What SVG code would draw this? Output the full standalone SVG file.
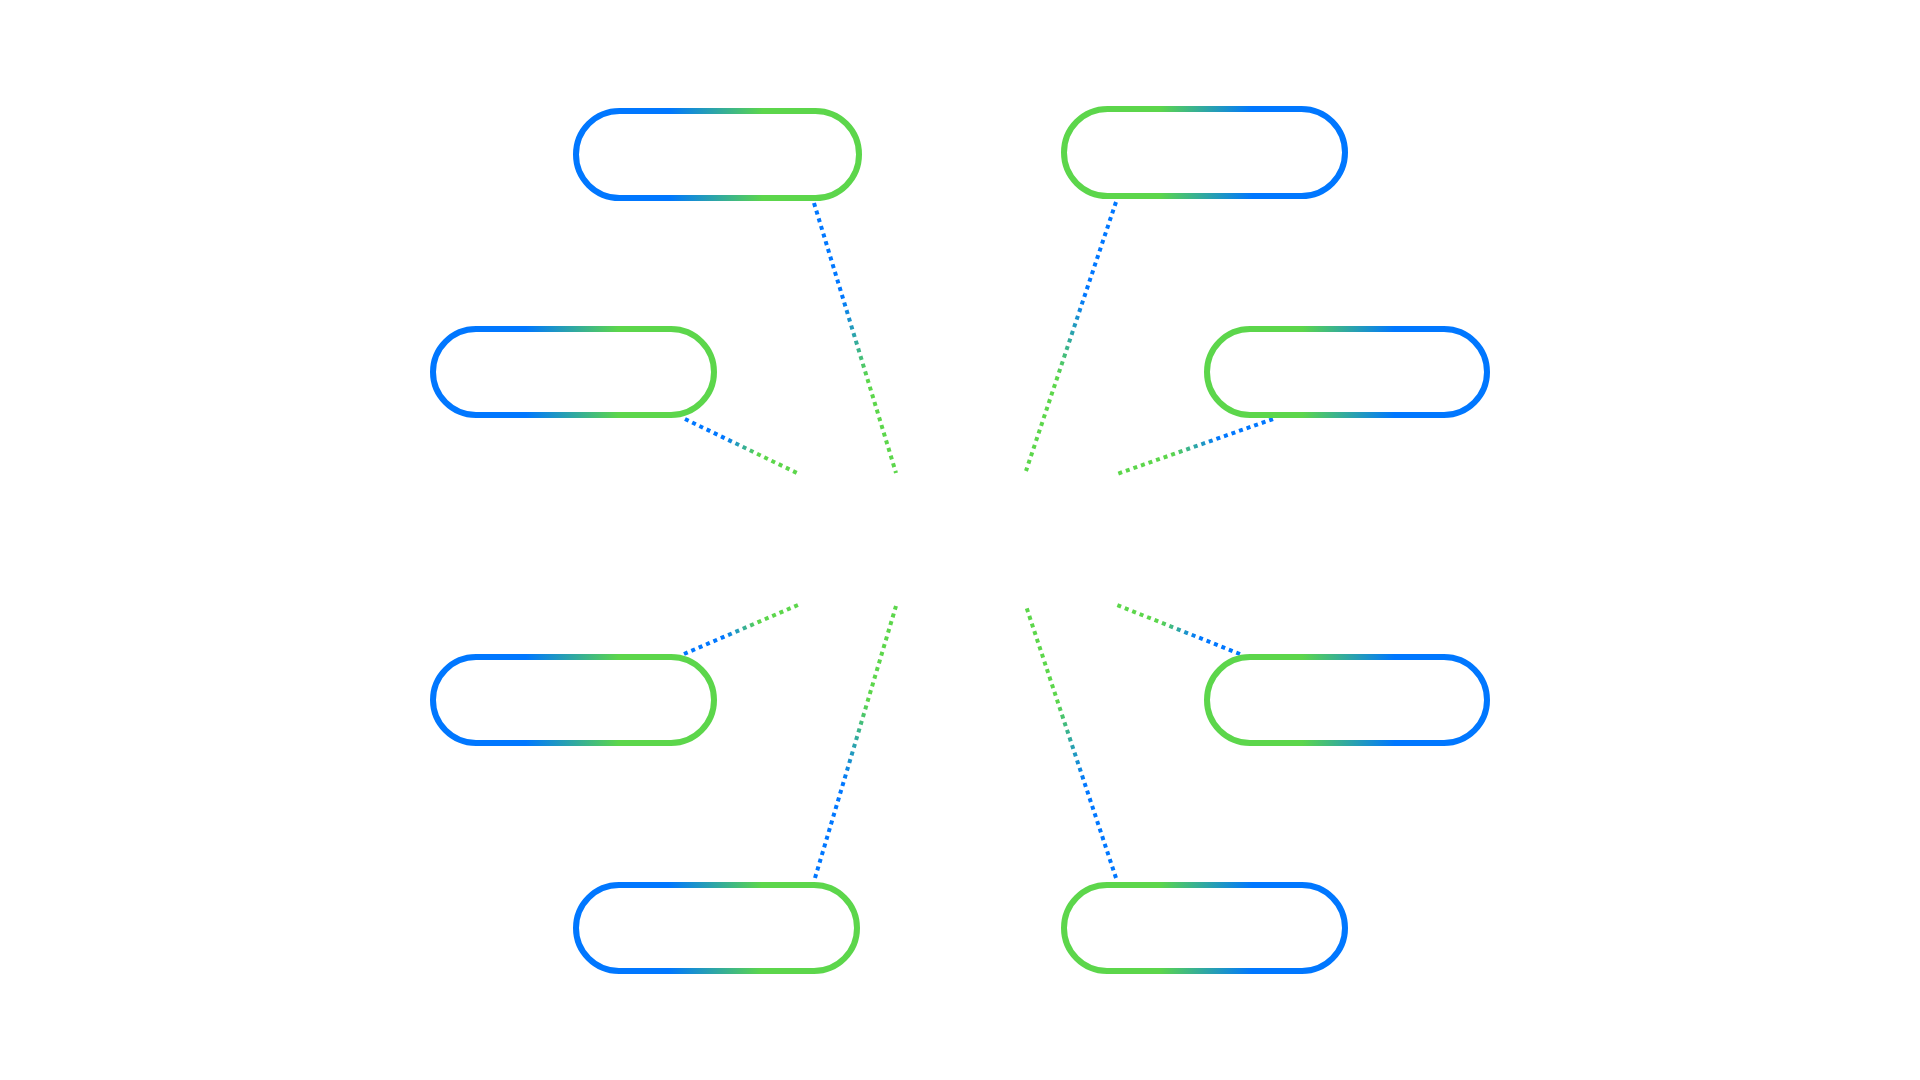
<svg xmlns="http://www.w3.org/2000/svg" width="1920" height="1080" viewBox="0 0 1920 1080">
  <defs>
    <linearGradient id="gBG" x1="0" y1="0" x2="1" y2="0">
      <stop offset="0.33" stop-color="#0077ff"/>
      <stop offset="0.66" stop-color="#5cd64b"/>
    </linearGradient>
    <linearGradient id="gGB" x1="0" y1="0" x2="1" y2="0">
      <stop offset="0.34" stop-color="#5cd64b"/>
      <stop offset="0.67" stop-color="#0077ff"/>
    </linearGradient>
    <linearGradient id="c1" gradientUnits="userSpaceOnUse" x1="814" y1="203" x2="896" y2="473">
      <stop offset="0.35" stop-color="#0077ff"/><stop offset="0.65" stop-color="#5cd64b"/>
    </linearGradient>
    <linearGradient id="c2" gradientUnits="userSpaceOnUse" x1="1116" y1="202" x2="1026" y2="471">
      <stop offset="0.35" stop-color="#0077ff"/><stop offset="0.65" stop-color="#5cd64b"/>
    </linearGradient>
    <linearGradient id="c3" gradientUnits="userSpaceOnUse" x1="685" y1="419" x2="797" y2="473">
      <stop offset="0.35" stop-color="#0077ff"/><stop offset="0.65" stop-color="#5cd64b"/>
    </linearGradient>
    <linearGradient id="c4" gradientUnits="userSpaceOnUse" x1="1273" y1="419" x2="1117" y2="474">
      <stop offset="0.35" stop-color="#0077ff"/><stop offset="0.65" stop-color="#5cd64b"/>
    </linearGradient>
    <linearGradient id="c5" gradientUnits="userSpaceOnUse" x1="684" y1="654" x2="798" y2="605">
      <stop offset="0.35" stop-color="#0077ff"/><stop offset="0.65" stop-color="#5cd64b"/>
    </linearGradient>
    <linearGradient id="c6" gradientUnits="userSpaceOnUse" x1="1240" y1="654" x2="1117" y2="605">
      <stop offset="0.35" stop-color="#0077ff"/><stop offset="0.65" stop-color="#5cd64b"/>
    </linearGradient>
    <linearGradient id="c7" gradientUnits="userSpaceOnUse" x1="815" y1="878" x2="896" y2="606">
      <stop offset="0.35" stop-color="#0077ff"/><stop offset="0.65" stop-color="#5cd64b"/>
    </linearGradient>
    <linearGradient id="c8" gradientUnits="userSpaceOnUse" x1="1116" y1="878" x2="1026" y2="606">
      <stop offset="0.35" stop-color="#0077ff"/><stop offset="0.65" stop-color="#5cd64b"/>
    </linearGradient>
  </defs>
  <style>
    .node { fill: #ffffff; stroke-width: 6; }
    .bg { stroke: url(#gBG); }
    .gb { stroke: url(#gGB); }
    .conn { fill: none; stroke-width: 4; stroke-dasharray: 4 4; stroke-linecap: butt; }
  </style>
  <rect width="1920" height="1080" fill="#ffffff"/>
  <g id="connectors">
    <line class="conn" x1="814" y1="203" x2="896" y2="473" stroke="url(#c1)"/>
    <line class="conn" x1="1116" y1="202" x2="1026" y2="471" stroke="url(#c2)"/>
    <line class="conn" x1="685" y1="419" x2="797" y2="473" stroke="url(#c3)"/>
    <line class="conn" x1="1273" y1="419" x2="1117" y2="474" stroke="url(#c4)"/>
    <line class="conn" x1="684" y1="654" x2="798" y2="605" stroke="url(#c5)"/>
    <line class="conn" x1="1240" y1="654" x2="1117" y2="605" stroke="url(#c6)"/>
    <line class="conn" x1="815" y1="878" x2="896" y2="606" stroke="url(#c7)"/>
    <line class="conn" x1="1116" y1="878" x2="1026" y2="606" stroke="url(#c8)"/>
  </g>
  <g id="node-top-left"><rect class="node bg" x="576" y="111" width="283" height="87" rx="43.5"/></g>
  <g id="node-top-right"><rect class="node gb" x="1064" y="109" width="281" height="87" rx="43.5"/></g>
  <g id="node-mid-left"><rect class="node bg" x="433" y="329" width="281" height="86" rx="43"/></g>
  <g id="node-mid-right"><rect class="node gb" x="1207" y="329" width="280" height="86" rx="43"/></g>
  <g id="node-low-left"><rect class="node bg" x="433" y="657" width="281" height="86" rx="43"/></g>
  <g id="node-low-right"><rect class="node gb" x="1207" y="657" width="280" height="86" rx="43"/></g>
  <g id="node-bottom-left"><rect class="node bg" x="576" y="885" width="281" height="86" rx="43"/></g>
  <g id="node-bottom-right"><rect class="node gb" x="1064" y="885" width="281" height="86" rx="43"/></g>
</svg>
